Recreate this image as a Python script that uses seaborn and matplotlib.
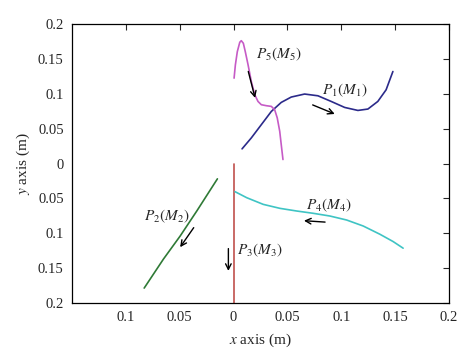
import numpy as np
import pandas as pd
import seaborn as sns
import matplotlib
matplotlib.use("Agg")
import matplotlib.pyplot as plt
from matplotlib.ticker import FuncFormatter

# Curve data
p1_x = [0.0079, 0.0165, 0.0258, 0.0351, 0.0443, 0.0536, 0.0660, 0.0784, 0.0907,
        0.1032, 0.1155, 0.1248, 0.1340, 0.1417, 0.1480]
p1_y = [0.021, 0.0367, 0.0557, 0.0747, 0.0876, 0.0953, 0.0996, 0.0971, 0.089,
        0.0804, 0.0761, 0.0781, 0.089, 0.1057, 0.1319]

p5_x = [0.0005, 0.0017, 0.0035, 0.0058, 0.0072, 0.0091, 0.0109, 0.0135, 0.0165, 0.0197,
        0.0227, 0.0258, 0.0304, 0.0351, 0.0382, 0.0406, 0.0429, 0.0443, 0.0459]
p5_y = [0.1224, 0.1414, 0.1604, 0.1739, 0.1761, 0.1724, 0.1604, 0.1414, 0.1176, 0.0986,
        0.089, 0.0843, 0.0829, 0.0819, 0.0771, 0.0653, 0.0461, 0.0271, 0.0057]

p2_x = [-0.0830, -0.0651, -0.0496, -0.0341, -0.0150]
p2_y = [-0.1786, -0.137, -0.104, -0.068, -0.022]

p3_x = [0.0, 0.0]
p3_y = [0.0, -0.2]

p4_x = [0.0014, 0.0122, 0.0276, 0.0431, 0.0586, 0.0740, 0.0895, 0.1050, 0.1204, 0.1359, 0.1482, 0.1575]
p4_y = [-0.0404, -0.049, -0.0586, -0.0643, -0.0681, -0.0714, -0.0753, -0.081, -0.0896, -0.1014, -0.1119, -0.1214]

labels = [r"$P_1(M_1)$", r"$P_2(M_2)$", r"$P_3(M_3)$", r"$P_4(M_4)$", r"$P_5(M_5)$"]
label_x = [0.0818, -0.083, 0.003, 0.067, 0.0206]
label_y = [0.1046, -0.075, -0.125, -0.060, 0.157]

# arrows: (start, end)
arrow_start = [(0.0735, 0.084), (-0.037, -0.092), (-0.0048, -0.122), (0.085, -0.084), (0.0137, 0.132)]
arrow_end = [(0.094, 0.071), (-0.0496, -0.120), (-0.0048, -0.154), (0.0654, -0.082), (0.0200, 0.094)]

colors = ["#2b2a8a", "#2f7a36", "#c0504d", "#3fc4c4", "#c65bc6"]

x_ticks = [-0.1, -0.05, 0, 0.05, 0.1, 0.15, 0.2]
y_ticks = [-0.2, -0.15, -0.1, -0.05, 0, 0.05, 0.1, 0.15, 0.2]

sns.set_style("white")
plt.rcParams["font.family"] = ["Liberation Serif", "DejaVu Serif"]
plt.rcParams["mathtext.fontset"] = "stix"

fig = plt.figure(figsize=(4.74, 3.64), dpi=100)
ax = fig.add_axes([0.152, 0.1676, 0.795, 0.7664])

series = [(p1_x, p1_y), (p2_x, p2_y), (p3_x, p3_y), (p4_x, p4_y), (p5_x, p5_y)]
for (xs, ys), c in zip(series, colors):
    df = pd.DataFrame({"x": xs, "y": ys})
    sns.lineplot(data=df, x="x", y="y", sort=False, estimator=None, color=c, lw=1.2, ax=ax)

for t, lx, ly in zip(labels, label_x, label_y):
    ax.text(lx, ly, t, fontsize=11, ha="left", va="center")

for s, e in zip(arrow_start, arrow_end):
    ax.annotate("", xy=e, xytext=s,
                arrowprops=dict(arrowstyle="->", color="black", lw=1.0, shrinkA=0, shrinkB=0))

ax.set_xlim(-0.15, 0.2)
ax.set_ylim(-0.2, 0.2)
ax.set_xticks(x_ticks)
ax.set_yticks(y_ticks)
fmt = FuncFormatter(lambda v, p: f"{abs(v):g}")
ax.xaxis.set_major_formatter(fmt)
ax.yaxis.set_major_formatter(fmt)
ax.tick_params(direction="in", top=True, right=True, length=4, width=0.8, labelsize=10.5, pad=6)
for sp in ax.spines.values():
    sp.set_color("black")
    sp.set_linewidth(0.9)
ax.set_xlabel(r"$x$ axis (m)", fontsize=11, labelpad=5)
ax.set_ylabel(r"$y$ axis (m)", fontsize=11, labelpad=4)

fig.savefig("out.png", dpi=100)
